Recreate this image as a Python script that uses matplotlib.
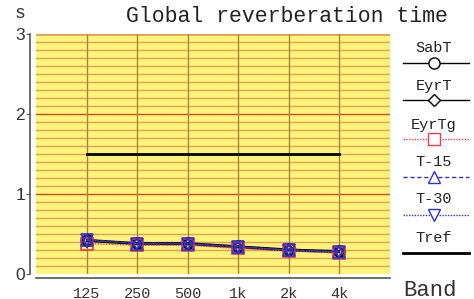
import matplotlib
matplotlib.use("Agg")
import matplotlib.pyplot as plt
from matplotlib.lines import Line2D
import numpy as np

bands = ["125", "250", "500", "1k", "2k", "4k"]
series_names = ["SabT", "EyrT", "EyrTg", "T-15", "T-30", "Tref"]
sabt = [0.43, 0.39, 0.39, 0.35, 0.31, 0.29]
eyrt = [0.41, 0.37, 0.37, 0.33, 0.29, 0.27]
eyrtg = [0.38, 0.36, 0.36, 0.32, 0.29, 0.26]
t15 = [0.43, 0.38, 0.38, 0.34, 0.30, 0.28]
t30 = [0.42, 0.38, 0.38, 0.34, 0.30, 0.28]
tref = [1.5, 1.5, 1.5, 1.5, 1.5, 1.5]
y_ticks = [0, 1, 2, 3]

styles = {
    "SabT": dict(color="black", ls="-", marker="o", mfc="none", mec="black", lw=1.0),
    "EyrT": dict(color="black", ls="-", marker="D", mfc="none", mec="black", lw=1.0, ms_scale=0.8),
    "EyrTg": dict(color="#e04050", ls=(0, (1, 1)), marker="s", mfc="none", mec="#e04050", lw=1.0),
    "T-15": dict(color="#3030d0", ls=(0, (3, 2)), marker="^", mfc="none", mec="#3030d0", lw=1.0),
    "T-30": dict(color="#3030d0", ls=(0, (1, 1)), marker="v", mfc="none", mec="#3030d0", lw=1.0),
    "Tref": dict(color="black", ls="-", marker=None, mfc="none", mec="black", lw=2.0),
}
data = {"SabT": sabt, "EyrT": eyrt, "EyrTg": eyrtg, "T-15": t15, "T-30": t30, "Tref": tref}

W, H = 474, 299
fig = plt.figure(figsize=(W / 100, H / 100), dpi=100)
ax = fig.add_axes([36 / W, (H - 274) / H, 354 / W, 240 / H])
ax.set_facecolor("#fff47c")
x = np.arange(1, len(bands) + 1)
ax.set_xlim(0, len(bands) + 1)
ax.set_ylim(0, 3)

# grid
for yv in np.arange(0.1, 3.0, 0.1):
    major = abs(yv - round(yv)) < 1e-6
    ax.axhline(yv, color="#d84a1c" if major else "#e6a050", lw=1.0, zorder=1)
ax.axhline(3.0, color="#e0a060", lw=2, zorder=1)
for xv in x:
    ax.axvline(xv, color="#a08a3c", lw=1.0, zorder=1)

for name in series_names:
    st = styles[name]
    ms = 8 * st.get("ms_scale", 1.0)
    ax.plot(x, data[name], color=st["color"], ls=st["ls"], lw=st["lw"],
            marker=st["marker"], mfc=st["mfc"], mec=st["mec"], ms=ms, mew=1.2, zorder=3)

for s in ["top", "right"]:
    ax.spines[s].set_visible(False)
ax.spines["left"].set_position(("outward", 4))
ax.spines["bottom"].set_position(("outward", 3))
ax.spines["left"].set_color("#555555")
ax.spines["bottom"].set_color("#555555")
ax.spines["left"].set_linewidth(1.2)
ax.spines["bottom"].set_linewidth(1.2)
ax.set_xticks(x)
ax.set_xticklabels(bands, family="Liberation Mono", fontsize=11, color="#333333")
ax.set_yticks(y_ticks)
ax.set_yticklabels([str(v) for v in y_ticks], family="Liberation Sans", fontsize=12.5, color="#333333")
ax.tick_params(axis="x", length=0, pad=6)
ax.tick_params(axis="y", length=3, color="#555555", pad=1)

fig.text(287 / W, 1 - 17 / H, "Global reverberation time", family="Liberation Mono",
         fontsize=15.5, ha="center", va="center", color="#222222")
fig.text(20 / W, 1 - 14 / H, "s", family="Liberation Mono", fontsize=13,
         ha="center", va="center", color="#333333")
fig.text(430 / W, 1 - 290 / H, "Band", family="Liberation Mono", fontsize=16,
         ha="center", va="center", color="#333333")

# manual legend
text_y = [48, 86, 125, 162, 199, 238]
line_y = [63, 100, 139, 177, 215, 253]
for name, ty, ly in zip(series_names, text_y, line_y):
    st = styles[name]
    fig.text(434 / W, 1 - ty / H, name, family="Liberation Mono", fontsize=11,
             ha="center", va="center", color="#222222")
    fig.add_artist(Line2D([403 / W, 469 / W], [1 - ly / H, 1 - ly / H],
                          color=st["color"], ls=st["ls"], lw=st["lw"],
                          transform=fig.transFigure))
    if st["marker"]:
        ms = 8 * st.get("ms_scale", 1.0)
        fig.add_artist(Line2D([434 / W], [1 - ly / H], marker=st["marker"],
                              mfc="white", mec=st["mec"], ms=ms, mew=1.0, ls="none",
                              transform=fig.transFigure))

fig.savefig("out.png", dpi=100, facecolor="white")
